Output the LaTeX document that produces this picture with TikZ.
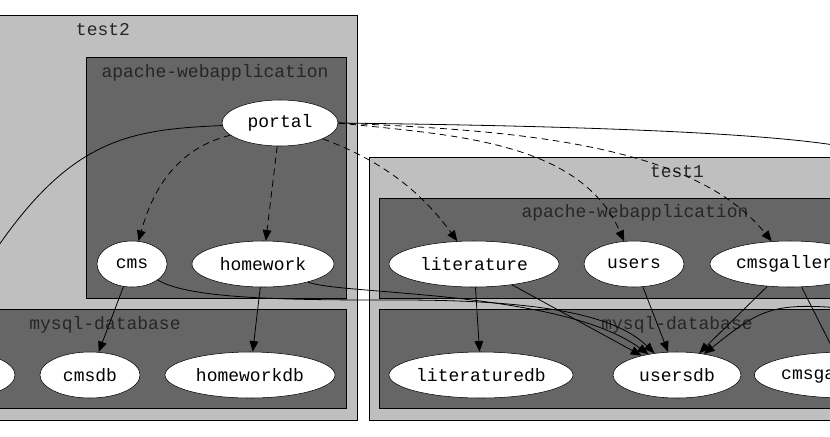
\documentclass[tikz,border=0pt]{standalone}
\usepackage{fontspec}
\setmainfont{Liberation Mono}
\usetikzlibrary{arrows.meta,shapes.geometric}
\begin{document}
\begin{tikzpicture}[x=0.75pt,y=-0.75pt,
 nd/.style={draw,fill=white,ellipse,inner sep=0pt,minimum height=46*0.75pt,font=\fontsize{13.5}{15}\selectfont},
 lab/.style={font=\fontsize{13.5}{15}\selectfont,text=black!85},
 cl/.style={draw,line width=0.6pt},
 e/.style={-{Triangle[length=8pt,width=6.5pt]},line width=0.6pt},
 d/.style={e,dash pattern=on 5pt off 3.5pt}]
\useasboundingbox (0,0) rectangle (830,436);
\clip (0,0) rectangle (830,436);
% clusters
\draw[cl,fill=black!25] (-20,15) rectangle (357,420);
\draw[cl,fill=black!60] (86,57) rectangle (346,298);
\draw[cl,fill=black!60] (-20,309) rectangle (346,408);
\draw[cl,fill=black!25] (369,157) rectangle (900,420);
\draw[cl,fill=black!60] (379,198) rectangle (900,298);
\draw[cl,fill=black!60] (379,309) rectangle (900,408);
\node[lab] (l1) at (103,30) {test2};
\node[lab] (l2) at (215,73) {apache-webapplication};
\node[lab] (l3) at (105,325) {mysql-database};
\node[lab] (l4) at (677,172) {test1};
\node[lab] (l5) at (635,213) {apache-webapplication};
\node[lab] (l6) at (677,325) {mysql-database};
% nodes
\node[nd,minimum width=116*0.75pt] (portal) at (280,123) {portal};
\node[nd,minimum width=70*0.75pt] (cms) at (132,264) {cms};
\node[nd,minimum width=142*0.75pt] (homework) at (263,264) {homework};
\node[nd,minimum width=170*0.75pt] (literature) at (474,264) {literature};
\node[nd,minimum width=100*0.75pt] (users) at (634,264) {users};
\node[nd,minimum width=160*0.75pt] (cmsgallery) at (790,264) {cmsgallery};
\node[nd,minimum width=110*0.75pt] (left) at (-40,375) {};
\node[nd,minimum width=100*0.75pt] (cmsdb) at (90,375) {cmsdb};
\node[nd,minimum width=170*0.75pt] (homeworkdb) at (250,375) {homeworkdb};
\node[nd,minimum width=184*0.75pt] (literaturedb) at (481,375) {literaturedb};
\node[nd,minimum width=128*0.75pt] (usersdb) at (677,375) {usersdb};
\node[nd,minimum width=160*0.75pt] (cmsgdb) at (846,375) {cmsgallerydb};
\coordinate (offl) at (-30,290);
\coordinate (offr) at (860,150);
\coordinate (offr2) at (860,310);
% dashed edges
\draw[d] (portal) .. controls (170,150) and (150,200) .. (cms);
\draw[d] (portal) -- (homework);
\draw[d] (portal) .. controls (380,160) and (420,190) .. (literature);
\draw[d] (portal.east) .. controls (450,135) and (580,140) .. (users);
\draw[d] (portal.east) .. controls (500,130) and (690,140) .. (cmsgallery);
% solid edges
\draw[line width=0.6pt] (portal) .. controls (120,130) and (60,140) .. (offl);
\draw[line width=0.6pt] (portal.east) .. controls (500,125) and (780,130) .. (offr);
\draw[e] (cms) -- (cmsdb);
\draw[e] (homework) -- (homeworkdb);
\draw[e] (cms) .. controls (190,300) and (300,300) .. (400,300) .. controls (560,300) and (620,320) .. (usersdb);
\draw[e] (homework) .. controls (340,295) and (560,290) .. (usersdb);
\draw[e] (literature) -- (literaturedb);
\draw[e] (literature) -- (usersdb);
\draw[e] (users) -- (usersdb);
\draw[e] (cmsgallery) -- (usersdb);
\draw[e] (offr2) .. controls (770,300) and (760,310) .. (usersdb);
\draw[line width=0.6pt] (cmsgallery) -- (cmsgdb);
\end{tikzpicture}
\end{document}
